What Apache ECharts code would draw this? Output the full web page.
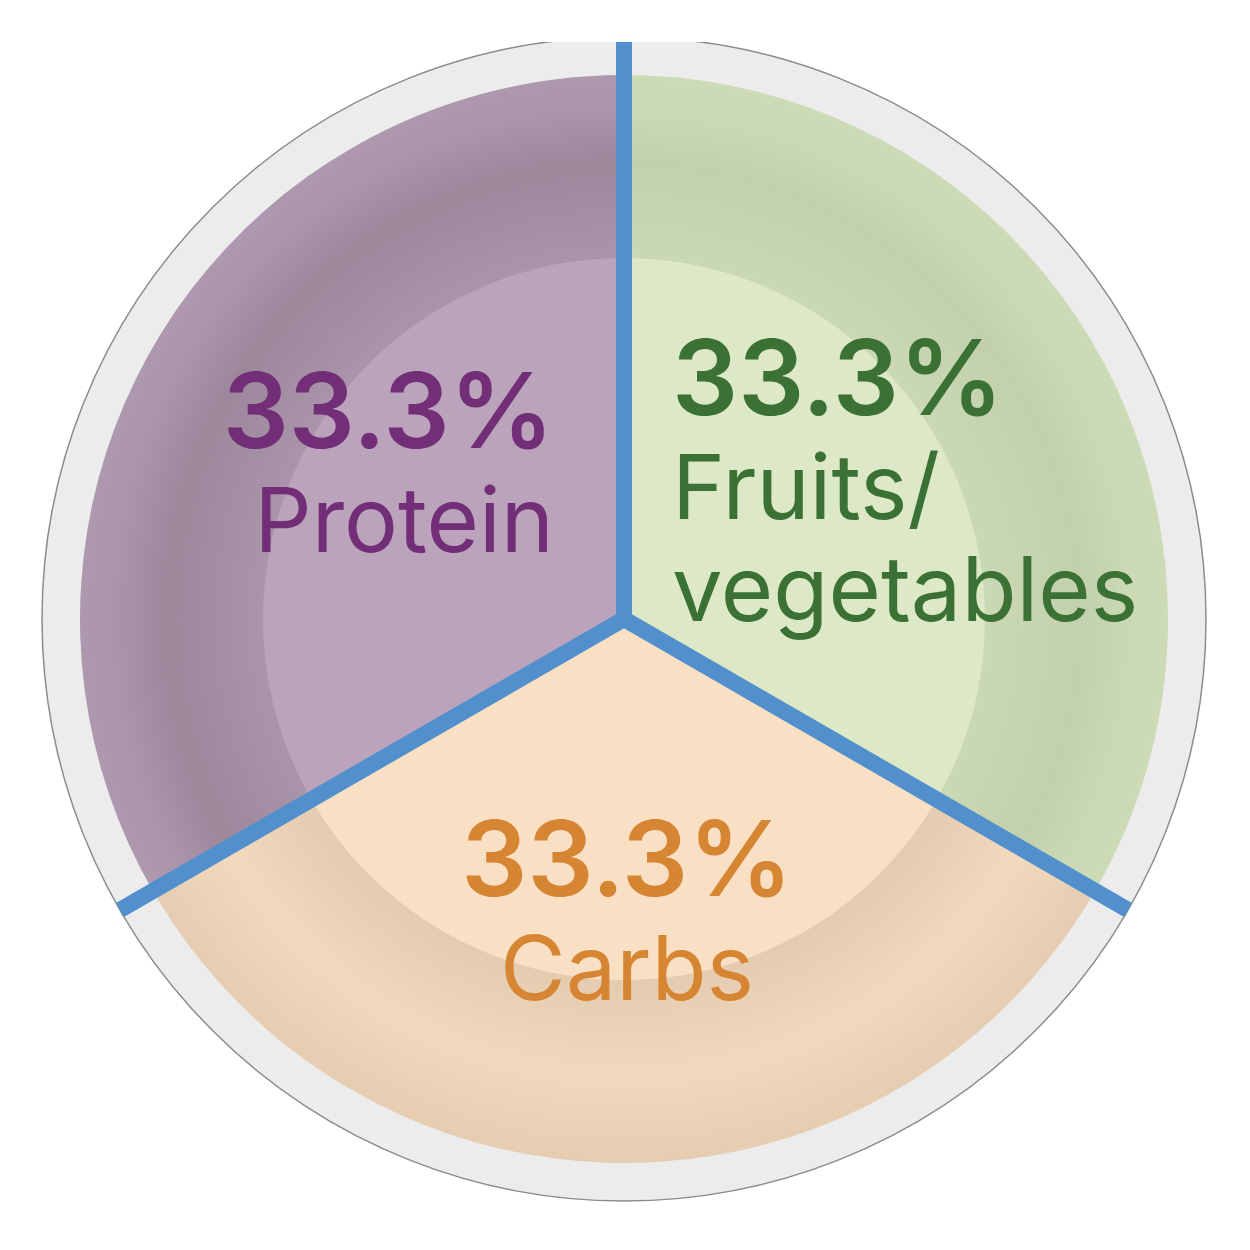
<!DOCTYPE html>
<html>
<head>
<meta charset="utf-8">
<script src="https://cdn.jsdelivr.net/npm/echarts@6/dist/echarts.min.js"></script>
<style>
html,body{margin:0;padding:0;background:#fff;overflow:hidden;}
#wrap{position:absolute;left:0;top:0;width:1250px;height:1250px;overflow:hidden;background:#fff;}
#chart{position:absolute;left:0;top:42px;width:1250px;height:1208px;}
</style>
</head>
<body>
<div id="wrap"><div id="chart"></div></div>
<script>
// ---- data ----
const categories = ['Fruits/vegetables', 'Carbs', 'Protein'];
const values = [33.3, 33.3, 33.3];

// ---- styles ----
const ringStops = [
  // Fruits/vegetables
  [[0, '#cbd9b5'], [0.64, '#cbd9b5'], [0.84, '#c2d0ac'], [0.94, '#cbd9b5'], [1, '#ccdab6']],
  // Carbs
  [[0, '#e5ccb0'], [0.66, '#e4cbaf'], [0.74, '#ead1b5'], [0.84, '#f2d9be'], [0.92, '#ecd3b7'], [1, '#e6cdb2']],
  // Protein
  [[0, '#ab96ac'], [0.64, '#ab96ac'], [0.84, '#9c879b'], [0.94, '#aa95ab'], [1, '#ad98ae']]
];
const innerColors = ['#dde9c6', '#f9e0c5', '#bba3bc'];
const textColors = ['#3c7136', '#d68533', '#722f77'];
const CX = 624, CY = 577;
const R_RIM = 582, R_MID = 544, R_IN = 361;
const labelPos = [
  {x: 672, y: 285, align: 'left'},
  {x: 627, y: 766, align: 'center'},
  {x: 554, y: 318, align: 'right'}
];

function ringGradient(i) {
  return {
    type: 'radial', x: CX, y: CY, r: R_MID, global: true,
    colorStops: ringStops[i].map(s => ({offset: s[0], color: s[1]}))
  };
}

const chart = echarts.init(document.getElementById('chart'), null, {renderer: 'canvas'});
chart.setOption({
  animation: false,
  graphic: [{
    type: 'circle', z: -10, silent: true,
    shape: {cx: CX, cy: CY, r: R_RIM},
    style: {fill: '#ececec', stroke: '#8c8c8c', lineWidth: 1.5}
  }],
  polar: {center: [CX, CY], radius: R_RIM},
  radiusAxis: {show: false, min: 0, max: 1},
  angleAxis: {
    type: 'category', data: categories, startAngle: 90, clockwise: true, boundaryGap: true,
    z: 10,
    axisLine: {show: false},
    axisTick: {show: false, interval: 0},
    axisLabel: {show: false, interval: 0},
    splitLine: {show: true, interval: 0, lineStyle: {color: '#5190cd', width: 16}}
  },
  series: [
    {
      type: 'pie', name: 'ring', silent: true, z: 2,
      center: [CX, CY], radius: [0, R_MID], startAngle: 90, clockwise: true,
      label: {show: false}, labelLine: {show: false},
      emphasis: {disabled: true},
      itemStyle: {borderWidth: 0},
      data: categories.map((c, i) => ({name: c, value: values[i], itemStyle: {color: ringGradient(i)}}))
    },
    {
      type: 'pie', name: 'inner', silent: true, z: 3,
      center: [CX, CY], radius: [0, R_IN], startAngle: 90, clockwise: true,
      emphasis: {disabled: true},
      itemStyle: {borderWidth: 0},
      labelLine: {show: false},
      label: {
        show: true, position: 'inside',
        fontFamily: 'Inter',
        formatter: p => '{p|' + p.value + '%}\n{n|' + p.name.replace('/', '/\n') + '}',
        rich: {
          p: {fontFamily: 'Inter', fontWeight: 600, fontSize: 104, lineHeight: 114},
          n: {fontFamily: 'Inter', fontWeight: 400, fontSize: 90, lineHeight: 102}
        }
      },
      labelLayout: params => ({
        x: labelPos[params.dataIndex].x,
        y: labelPos[params.dataIndex].y,
        align: labelPos[params.dataIndex].align,
        verticalAlign: 'top'
      }),
      data: categories.map((c, i) => ({
        name: c, value: values[i],
        itemStyle: {color: innerColors[i]},
        label: {color: textColors[i]}
      }))
    }
  ]
});
</script>
</body>
</html>
